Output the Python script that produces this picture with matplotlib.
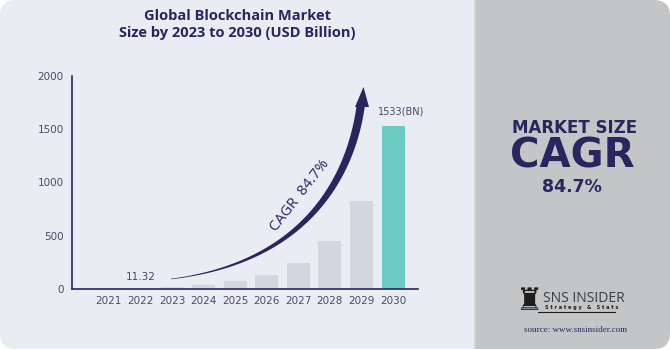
import numpy as np
import matplotlib.pyplot as plt
from matplotlib.patches import FancyBboxPatch, Rectangle, Polygon

years = ['2021', '2022', '2023', '2024', '2025', '2026', '2027', '2028', '2029', '2030']
market_size = [7, 11.32, 21, 39, 71, 132, 243, 449, 830, 1533]
yticks = [0, 500, 1000, 1500, 2000]

navy = '#27265e'
bar_grey = '#d0d7df'
teal = '#6ccac4'
tick_col = '#4b4a66'

fig = plt.figure(figsize=(6.7, 3.5), dpi=100)
fig.patch.set_facecolor('white')

# background panels (pixel coordinates)
bg = fig.add_axes([0, 0, 1, 1], zorder=0)
bg.set_xlim(0, 670)
bg.set_ylim(350, 0)
bg.axis('off')
bg.add_patch(FancyBboxPatch((0, 0), 500, 349, boxstyle='round,pad=0,rounding_size=16',
                            fc='#e9ecf2', ec='none'))
bg.add_patch(FancyBboxPatch((474, 0), 196, 349, boxstyle='round,pad=0,rounding_size=16',
                            fc='#c4c5c7', ec='none'))
bg.add_patch(Rectangle((474, 0), 30, 349, fc='#c4c5c7', ec='none'))
bg.add_patch(Rectangle((474, 0), 1.5, 349, fc='#d2d3d6', ec='none'))

# main bar chart
ax = fig.add_axes([72 / 670, 61 / 350, 346 / 670, 213 / 350], zorder=1)
ax.set_facecolor('none')
x = np.arange(len(years))
colors = [bar_grey] * (len(years) - 1) + [teal]
ax.bar(x, market_size, width=0.73, color=colors, zorder=2)
ax.set_xlim(-1.17, 9.79)
ax.set_ylim(0, 2000)
ax.set_xticks(x)
ax.set_xticklabels(years)
ax.set_yticks(yticks)
ax.tick_params(length=0, labelsize=7.5, colors=tick_col)
ax.tick_params(axis='y', pad=6)
ax.tick_params(axis='x', pad=5)
for s in ['top', 'right']:
    ax.spines[s].set_visible(False)
for s in ['left', 'bottom']:
    ax.spines[s].set_color(navy)
    ax.spines[s].set_linewidth(1.2)
ax.text(x[1], market_size[1] + 50, '11.32', ha='center', va='bottom', fontsize=7.5, color=tick_col)
ax.text(x[-1] + 0.25, market_size[-1] + 90, '1533(BN)', ha='center', va='bottom', fontsize=7,
        color=tick_col, family='Liberation Sans Narrow')

# overlay: arrow, titles, side panel text
fg = fig.add_axes([0, 0, 1, 1], zorder=2)
fg.set_xlim(0, 670)
fg.set_ylim(350, 0)
fg.axis('off')
fg.patch.set_alpha(0)

p0, p1, p2, p3 = map(np.array, [(171, 279), (310, 262), (352, 172), (361, 104)])
t = np.linspace(0, 1, 120)[:, None]
curve = (1 - t) ** 3 * p0 + 3 * (1 - t) ** 2 * t * p1 + 3 * (1 - t) * t ** 2 * p2 + t ** 3 * p3
d = np.gradient(curve, axis=0)
nrm = np.column_stack([-d[:, 1], d[:, 0]])
nrm /= np.linalg.norm(nrm, axis=1)[:, None]
w = (0.3 + 3.8 * np.sin(np.pi * t[:, 0] * 0.5) ** 1.2)[:, None]
poly = np.vstack([curve + nrm * w, (curve - nrm * w)[::-1]])
fg.add_patch(Polygon(poly, closed=True, fc=navy, ec='none'))
fg.add_patch(Polygon([(363.5, 87), (355, 107), (369, 107)], closed=True, fc=navy, ec='none'))
fg.text(300, 196, 'CAGR  84.7%', rotation=52, ha='center', va='center', fontsize=10.5,
        color=navy, family='Open Sans')

fg.text(237, 16, 'Global Blockchain Market', ha='center', va='center', fontsize=10.5,
        fontweight='bold', color=navy, family='Open Sans')
fg.text(237, 33, 'Size by 2023 to 2030 (USD Billion)', ha='center', va='center', fontsize=10.5,
        fontweight='bold', color=navy, family='Open Sans')

fg.text(575, 128, 'MARKET SIZE', ha='center', va='center', fontsize=12,
        fontweight='heavy', color=navy, family='DejaVu Sans')
fg.text(572, 156, 'CAGR', ha='center', va='center', fontsize=29,
        fontweight='heavy', color=navy, family='DejaVu Sans')
fg.text(572, 187, '84.7%', ha='center', va='center', fontsize=12.5,
        fontweight='heavy', color=navy, family='DejaVu Sans')

fg.text(530, 301, '\u265c', ha='center', va='center', fontsize=22, color='#1d1d1d', family='DejaVu Sans')
fg.plot([538, 615], [312, 312], color='#1d1d1d', lw=0.8)
fg.text(543, 299, 'SNS INSIDER', ha='left', va='center', fontsize=10, color='#3a3a48', family='Open Sans')
fg.text(545, 308, 'S t r a t e g y   &   S t a t s', ha='left', va='center', fontsize=3.6,
        color='#1d1d1d', fontweight='bold')
fg.text(575, 330, 'source: www.snsinsider.com', ha='center', va='center', fontsize=6.5,
        color=navy, family='Liberation Serif')

fig.savefig('out.png', dpi=100)
